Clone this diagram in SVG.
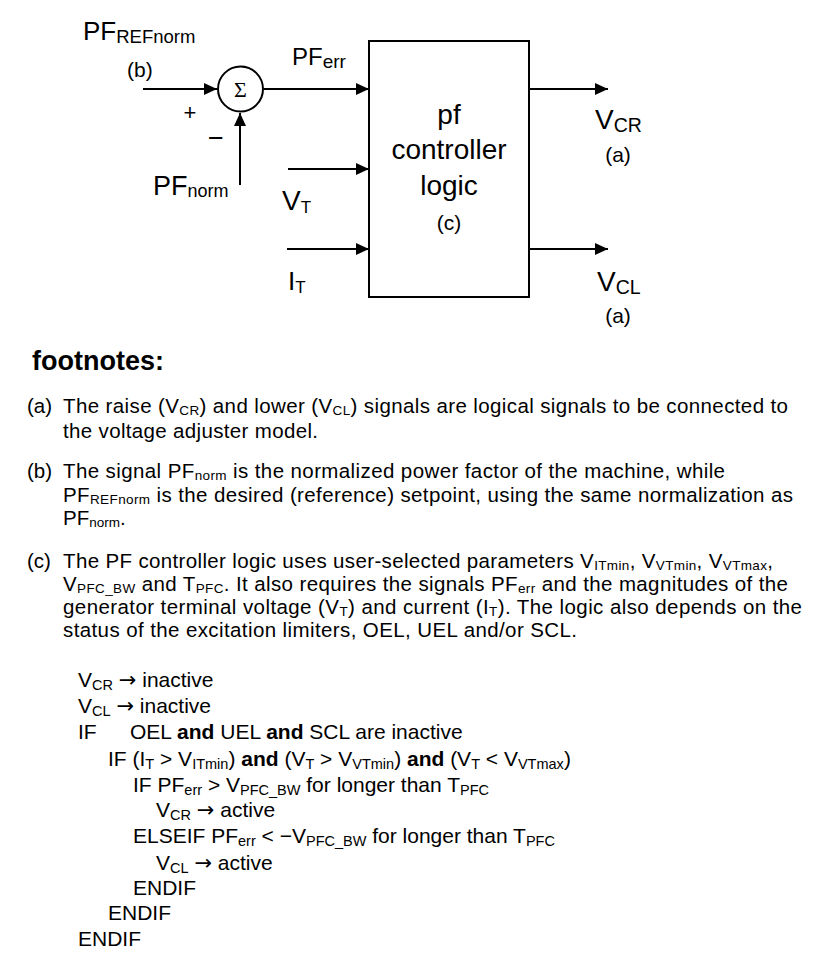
<svg xmlns="http://www.w3.org/2000/svg" width="823" height="964" viewBox="0 0 823 964">
<defs>
<marker id="ah" markerUnits="userSpaceOnUse" markerWidth="14" markerHeight="12" refX="13" refY="6" orient="auto">
<path d="M0,0 L13,6 L0,12 Z" fill="#000"/>
</marker>
<style>
text{font-family:"Liberation Sans",Arial,sans-serif;fill:#000}
.d{font-size:28px}
.lab{font-size:21px}
.fn{font-size:20.5px}
.fs{font-size:13.5px}
.pc{font-size:21px}
.ps{font-size:14.5px}
.ar{font-family:"DejaVu Sans",sans-serif;font-size:21px}
.b{font-weight:bold}
.c{text-anchor:middle}
.ln{stroke:#000;stroke-width:2;fill:none}
</style>
</defs>
<rect width="823" height="964" fill="#fff"/>

<g id="connectors">
<line class="ln" x1="143" y1="89" x2="217" y2="89" marker-end="url(#ah)"/>
<line class="ln" x1="240" y1="185" x2="240" y2="113" marker-end="url(#ah)"/>
<line class="ln" x1="264" y1="89" x2="369" y2="89" marker-end="url(#ah)"/>
<line class="ln" x1="288" y1="169" x2="369" y2="169" marker-end="url(#ah)"/>
<line class="ln" x1="287" y1="249" x2="369" y2="249" marker-end="url(#ah)"/>
<line class="ln" x1="530" y1="89" x2="608" y2="89" marker-end="url(#ah)"/>
<line class="ln" x1="530" y1="249" x2="608" y2="249" marker-end="url(#ah)"/>
</g>

<g id="sum">
<circle class="ln" cx="240.5" cy="89" r="22.5"/>
<text x="240.5" y="97" class="c" style="font-family:'Liberation Serif',serif;font-size:22px">Σ</text>
<text x="190" y="120" class="c" style="font-size:22px">+</text>
<text x="216" y="147" class="c" style="font-size:27px">−</text>
</g>

<g id="controller">
<rect class="ln" x="369" y="41" width="160" height="256"/>
<text class="d c" x="449" y="124">pf</text>
<text class="d c" x="449" y="159">controller</text>
<text class="d c" x="449" y="195">logic</text>
<text class="lab c" x="449" y="230">(c)</text>
</g>

<g id="in-pfref">
<text x="83" y="40" style="font-size:26px">PF<tspan dy="3" style="font-size:18.5px">REFnorm</tspan></text>
<text class="lab" x="127" y="77">(b)</text>
</g>
<g id="in-pfnorm">
<text x="153" y="195" style="font-size:27px">PF<tspan dy="2" style="font-size:18px">norm</tspan></text>
</g>
<g id="sig-pferr">
<text x="292" y="65" style="font-size:24px">PF<tspan dy="3" style="font-size:19px">err</tspan></text>
</g>
<g id="in-vt">
<text x="282" y="210" class="d">V<tspan dy="3" style="font-size:17px">T</tspan></text>
</g>
<g id="in-it">
<text x="288" y="290" style="font-size:26px">I<tspan dy="3" style="font-size:17px">T</tspan></text>
</g>
<g id="out-vcr">
<text x="595" y="129" class="d">V<tspan dy="3" style="font-size:19.5px">CR</tspan></text>
<text class="lab c" x="618" y="162">(a)</text>
</g>
<g id="out-vcl">
<text x="597" y="291" class="d">V<tspan dy="3" style="font-size:19.5px">CL</tspan></text>
<text class="lab c" x="618" y="323">(a)</text>
</g>

<g id="footnotes">
<text x="32" y="370" class="b" style="font-size:27px">footnotes:</text>

<text class="fn" x="27" y="413">(a)</text>
<text class="fn" x="63" y="413" textLength="725">The raise (V<tspan class="fs" dy="2">CR</tspan><tspan dy="-2">) and lower (V</tspan><tspan class="fs" dy="2">CL</tspan><tspan dy="-2">) signals are logical signals to be connected to</tspan></text>
<text class="fn" x="63" y="438" textLength="255">the voltage adjuster model.</text>

<text class="fn" x="27" y="478">(b)</text>
<text class="fn" x="63" y="478" textLength="662">The signal PF<tspan class="fs" dy="2">norm</tspan><tspan dy="-2"> is the normalized power factor of the machine, while</tspan></text>
<text class="fn" x="63" y="502" textLength="730">PF<tspan class="fs" dy="2">REFnorm</tspan><tspan dy="-2"> is the desired (reference) setpoint, using the same normalization as</tspan></text>
<text class="fn" x="63" y="525">PF<tspan class="fs" dy="2">norm</tspan><tspan dy="-2">.</tspan></text>

<text class="fn" x="27" y="568">(c)</text>
<text class="fn" x="63" y="568" textLength="710">The PF controller logic uses user-selected parameters V<tspan class="fs" dy="2">ITmin</tspan><tspan dy="-2">, V</tspan><tspan class="fs" dy="2">VTmin</tspan><tspan dy="-2">, V</tspan><tspan class="fs" dy="2">VTmax</tspan><tspan dy="-2">,</tspan></text>
<text class="fn" x="63" y="591" textLength="725">V<tspan class="fs" dy="2">PFC_BW</tspan><tspan dy="-2"> and T</tspan><tspan class="fs" dy="2">PFC</tspan><tspan dy="-2">. It also requires the signals PF</tspan><tspan class="fs" dy="2">err</tspan><tspan dy="-2"> and the magnitudes of the</tspan></text>
<text class="fn" x="63" y="614" textLength="739">generator terminal voltage (V<tspan class="fs" dy="2">T</tspan><tspan dy="-2">) and current (I</tspan><tspan class="fs" dy="2">T</tspan><tspan dy="-2">). The logic also depends on the</tspan></text>
<text class="fn" x="63" y="637" textLength="514">status of the excitation limiters, OEL, UEL and/or SCL.</text>
</g>

<g id="pseudocode">
<text class="pc" x="78" y="687">V<tspan class="ps" dy="3">CR</tspan><tspan dy="-3"> </tspan><tspan class="ar">→</tspan> inactive</text>
<text class="pc" x="78" y="713">V<tspan class="ps" dy="3">CL</tspan><tspan dy="-3"> </tspan><tspan class="ar">→</tspan> inactive</text>
<text class="pc" x="78" y="739">IF</text>
<text class="pc" x="130" y="739">OEL <tspan class="b">and</tspan> UEL <tspan class="b">and</tspan> SCL are inactive</text>
<text class="pc" x="108" y="766">IF (I<tspan class="ps" dy="3">T</tspan><tspan dy="-3"> &gt; V</tspan><tspan class="ps" dy="3">ITmin</tspan><tspan dy="-3">) </tspan><tspan class="b">and</tspan> (V<tspan class="ps" dy="3">T</tspan><tspan dy="-3"> &gt; V</tspan><tspan class="ps" dy="3">VTmin</tspan><tspan dy="-3">) </tspan><tspan class="b">and</tspan> (V<tspan class="ps" dy="3">T</tspan><tspan dy="-3"> &lt; V</tspan><tspan class="ps" dy="3">VTmax</tspan><tspan dy="-3">)</tspan></text>
<text class="pc" x="133" y="792">IF PF<tspan class="ps" dy="3">err</tspan><tspan dy="-3"> &gt; V</tspan><tspan class="ps" dy="3">PFC_BW</tspan><tspan dy="-3"> for longer than T</tspan><tspan class="ps" dy="3">PFC</tspan></text>
<text class="pc" x="156" y="817">V<tspan class="ps" dy="3">CR</tspan><tspan dy="-3"> </tspan><tspan class="ar">→</tspan> active</text>
<text class="pc" x="133" y="843">ELSEIF PF<tspan class="ps" dy="3">err</tspan><tspan dy="-3"> &lt; −V</tspan><tspan class="ps" dy="3">PFC_BW</tspan><tspan dy="-3"> for longer than T</tspan><tspan class="ps" dy="3">PFC</tspan></text>
<text class="pc" x="156" y="870">V<tspan class="ps" dy="3">CL</tspan><tspan dy="-3"> </tspan><tspan class="ar">→</tspan> active</text>
<text class="pc" x="133" y="895">ENDIF</text>
<text class="pc" x="108" y="920">ENDIF</text>
<text class="pc" x="78" y="946">ENDIF</text>
</g>
</svg>
